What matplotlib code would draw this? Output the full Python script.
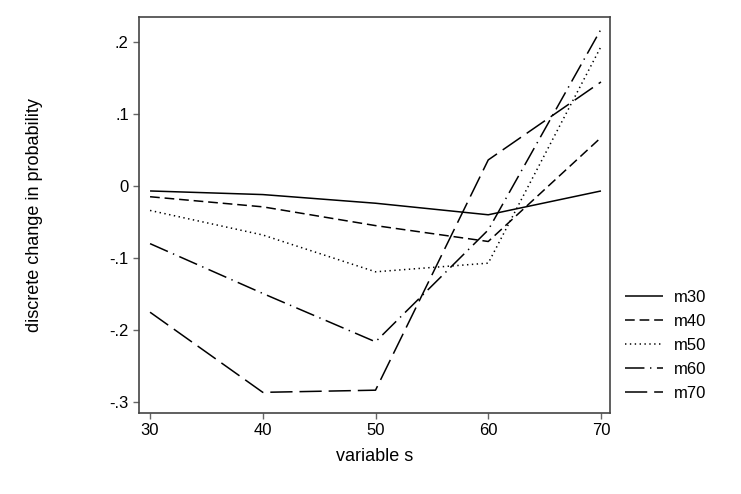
import matplotlib
matplotlib.use("Agg")
import matplotlib.pyplot as plt

plt.rcParams["font.family"] = ["Liberation Sans", "DejaVu Sans"]
plt.rcParams["lines.scale_dashes"] = False

s_values = [30, 40, 50, 60, 70]
m30 = [-0.007, -0.012, -0.024, -0.040, -0.007]
m40 = [-0.015, -0.029, -0.055, -0.077, 0.067]
m50 = [-0.034, -0.068, -0.119, -0.107, 0.193]
m60 = [-0.080, -0.149, -0.216, -0.061, 0.217]
m70 = [-0.175, -0.286, -0.283, 0.036, 0.144]

series_names = ["m30", "m40", "m50", "m60", "m70"]
y_ticks = [-0.3, -0.2, -0.1, 0, 0.1, 0.2]
y_tick_labels = ["-.3", "-.2", "-.1", "0", ".1", ".2"]

styles = [
    (0, ()),
    (0, (7, 3.5)),
    (0, (1, 2.5)),
    (0, (14, 4, 1, 4)),
    (0, (16, 5)),
]

fig = plt.figure(figsize=(7.41, 4.94), dpi=100)
ax = fig.add_axes([0.1876, 0.1634, 0.6356, 0.8016])

for vals, name, ls in zip([m30, m40, m50, m60, m70], series_names, styles):
    ax.plot(s_values, vals, color="black", linewidth=1.1,
            linestyle=ls, label=name)

ax.set_xlim(29.02, 70.8)
ax.set_ylim(-0.315, 0.2336)
ax.set_xticks(s_values)
ax.set_yticks(y_ticks)
ax.set_yticklabels(y_tick_labels)

for sp in ax.spines.values():
    sp.set_color("#444444")
    sp.set_linewidth(1.2)

ax.tick_params(direction="out", length=4.3, width=1, color="#666666",
               labelsize=12, pad=3)

ax.set_xlabel("variable s", fontsize=13)
ax.xaxis.set_label_coords(0.5, -0.087)
ax.set_ylabel("discrete change in probability", fontsize=13)
ax.yaxis.set_label_coords(-0.204, 0.5)

fig.legend(
    loc="upper left",
    bbox_to_anchor=(625 / 741, 1 - 289.5 / 494),
    frameon=False,
    fontsize=12,
    handlelength=2.28,
    handletextpad=0.66,
    labelspacing=0.55,
    borderpad=0,
    borderaxespad=0,
)

plt.savefig("out.png", dpi=100)
plt.close()
